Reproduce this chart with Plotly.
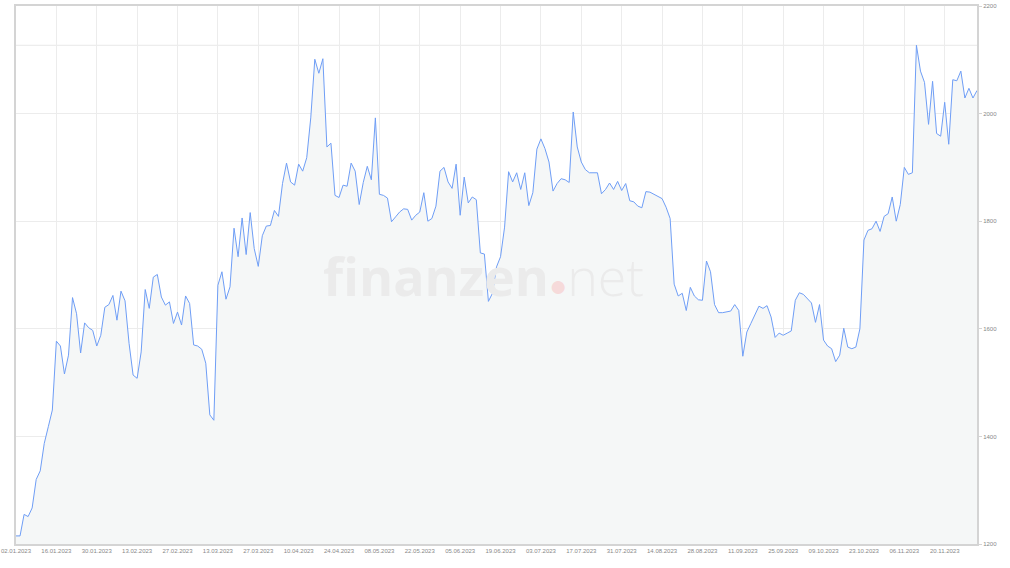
import pandas as pd
import plotly.graph_objects as go

# closing prices, one per weekday starting 02.01.2023
prices = [
    1215, 1215, 1255, 1251, 1267, 1320, 1336, 1387, 1418, 1449,
    1577, 1568, 1516, 1551, 1658, 1628, 1555, 1611, 1602, 1597,
    1568, 1588, 1640, 1645, 1662, 1616, 1670, 1652, 1573, 1514,
    1508, 1557, 1673, 1638, 1696, 1701, 1659, 1644, 1650, 1610,
    1631, 1607, 1661, 1647, 1570, 1568, 1562, 1536, 1440, 1430,
    1681, 1706, 1655, 1678, 1787, 1734, 1806, 1738, 1816, 1749,
    1716, 1773, 1791, 1792, 1820, 1809, 1870, 1908, 1873, 1867,
    1906, 1893, 1918, 1992, 2101, 2075, 2102, 1938, 1945, 1848,
    1844, 1867, 1865, 1908, 1893, 1831, 1872, 1902, 1877, 1992,
    1850, 1848, 1843, 1799, 1808, 1817, 1823, 1822, 1802, 1811,
    1817, 1853, 1800, 1805, 1828, 1893, 1900, 1873, 1861, 1906,
    1811, 1882, 1834, 1845, 1840, 1741, 1739, 1651, 1666, 1715,
    1734, 1789, 1892, 1873, 1890, 1859, 1890, 1829, 1853, 1934,
    1953, 1935, 1910, 1856, 1870, 1879, 1877, 1872, 2003, 1938,
    1910, 1896, 1890, 1890, 1890, 1851, 1859, 1871, 1859, 1874,
    1857, 1870, 1838, 1836, 1828, 1825, 1855, 1854, 1850, 1846,
    1842, 1826, 1805, 1683, 1661, 1666, 1634, 1677, 1661, 1654,
    1653, 1726, 1706, 1645, 1630, 1630, 1632, 1633, 1645, 1634,
    1549, 1594, 1610, 1627, 1642, 1638, 1643, 1622, 1584, 1592,
    1588, 1592, 1596, 1653, 1667, 1664, 1656, 1648, 1612, 1645,
    1579, 1568, 1563, 1539, 1551, 1601, 1566, 1563, 1566, 1600,
    1765, 1783, 1786, 1800, 1781, 1809, 1814, 1845, 1800, 1831,
    1900, 1887, 1890, 2127, 2079, 2058, 1980, 2060, 1963, 1958,
    2021, 1943, 2063, 2061, 2079, 2029, 2047, 2029, 2043,
]
dates = pd.bdate_range("2023-01-02", periods=len(prices))

tick_dates = [
    "2023-01-02", "2023-01-16", "2023-01-30", "2023-02-13", "2023-02-27",
    "2023-03-13", "2023-03-27", "2023-04-10", "2023-04-24", "2023-05-08",
    "2023-05-22", "2023-06-05", "2023-06-19", "2023-07-03", "2023-07-17",
    "2023-07-31", "2023-08-14", "2023-08-28", "2023-09-11", "2023-09-25",
    "2023-10-09", "2023-10-23", "2023-11-06", "2023-11-20",
]
y_ticks = [1200, 1400, 1600, 1800, 2000, 2200]

fig = go.Figure()
fig.add_trace(go.Scatter(
    x=dates, y=prices, mode="lines",
    line=dict(color="#6f9ef6", width=1),
    fill="tozeroy", fillcolor="#f5f7f7",
    hoverinfo="x+y", showlegend=False,
))

# high / low marker lines
for v in (max(prices), min(prices)):
    fig.add_shape(type="line", xref="paper", x0=0, x1=1, y0=v, y1=v,
                  line=dict(color="#e8e8e8", width=1), layer="below")

# watermark
fig.add_annotation(
    x=0.486, y=0.5, xref="paper", yref="paper", showarrow=False,
    text="<b>finanzen</b><span style='color:#f6dada;font-size:30px'>●</span>net",
    font=dict(family="Open Sans", size=52, color="#ebebeb", weight=300),
    xanchor="center", yanchor="middle",
)

fig.update_xaxes(
    type="date",
    range=[dates[0], dates[-1]],
    rangebreaks=[dict(bounds=["sat", "mon"])],
    tickvals=tick_dates,
    tickformat="%d.%m.%Y",
    tickfont=dict(size=6, color="#888888", family="Arial"),
    showgrid=True, gridcolor="#ececec", gridwidth=1,
    showline=True, linecolor="#d4d4d4", linewidth=2, mirror=True,
    ticks="", zeroline=False, automargin=False,
)
fig.update_yaxes(
    range=[1200, 2200],
    side="right",
    tickvals=y_ticks,
    tickfont=dict(size=6, color="#888888", family="Arial"),
    ticks="outside", ticklen=3, tickcolor="#d4d4d4",
    showgrid=True, gridcolor="#ececec", gridwidth=1,
    showline=True, linecolor="#d4d4d4", linewidth=2, mirror=True,
    zeroline=False, automargin=False,
)
fig.update_layout(
    width=1010, height=568,
    margin=dict(l=16, r=33, t=6, b=24),
    plot_bgcolor="white", paper_bgcolor="white",
    hovermode="x",
)
fig.write_html("out.html", config={"displayModeBar": False},
               post_script="document.body.style.margin='0';")
